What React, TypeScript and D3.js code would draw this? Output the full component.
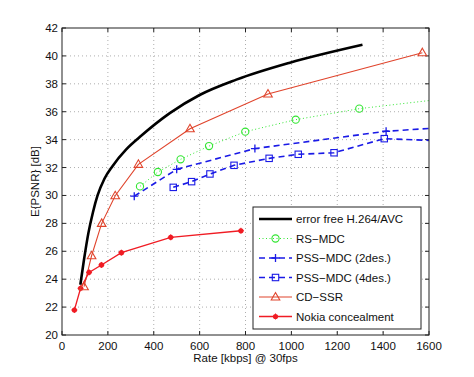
import React from "react";
import * as d3 from "d3";

const xTicks = [0, 200, 400, 600, 800, 1000, 1200, 1400, 1600];
const yTicks = [20, 22, 24, 26, 28, 30, 32, 34, 36, 38, 40, 42];

const errFreeRate = [80, 95, 115, 135, 155, 185, 220, 280, 340, 470, 600, 760, 990, 1310];
const errFreePsnr = [23.6, 25.3, 27.3, 28.8, 30.0, 31.2, 32.1, 33.3, 34.2, 35.9, 37.2, 38.3, 39.5, 40.8];

const rsRate = [340, 418, 517, 641, 799, 1019, 1296, 1600];
const rsPsnr = [30.65, 31.68, 32.59, 33.54, 34.57, 35.43, 36.22, 36.8];

const pss2Rate = [315, 500, 841, 1413, 1600];
const pss2Psnr = [29.95, 31.87, 33.36, 34.6, 34.8];

const pss4Rate = [485, 565, 645, 750, 903, 1030, 1186, 1405, 1600];
const pss4Psnr = [30.58, 30.99, 31.54, 32.16, 32.66, 32.95, 33.06, 34.07, 33.95];

const cdRate = [96, 129, 173, 232, 333, 558, 898, 1571];
const cdPsnr = [23.46, 25.68, 28.0, 29.98, 32.23, 34.78, 37.27, 40.23];

const nokiaRate = [54, 81, 118, 172, 259, 474, 780];
const nokiaPsnr = [21.79, 23.35, 24.49, 25.02, 25.9, 27.0, 27.47];

const legendLabels = [
  "error free H.264/AVC",
  "RS\u2212MDC",
  "PSS\u2212MDC (2des.)",
  "PSS\u2212MDC (4des.)",
  "CD\u2212SSR",
  "Nokia concealment",
];

const W = 474, H = 377;
const L = 62, R = 429, T = 28, B = 335;
const FONT = "'Liberation Sans', Arial, sans-serif";

const BLUE = "#1a1ae6";
const GREEN = "#33e633";
const ORANGE = "#e0442c";
const RED = "#f01c24";

type Pt = [number, number];
const zip = (a: number[], b: number[]): Pt[] => a.map((v, i) => [v, b[i]]);

export default function App() {
  const x = d3.scaleLinear().domain([0, 1600]).range([L, R]);
  const y = d3.scaleLinear().domain([20, 42]).range([B, T]);
  const line = (curve = d3.curveLinear) =>
    d3.line<Pt>().x((d) => x(d[0])).y((d) => y(d[1])).curve(curve);

  const errFree = zip(errFreeRate, errFreePsnr);
  const rs = zip(rsRate, rsPsnr);
  const pss2 = zip(pss2Rate, pss2Psnr);
  const pss4 = zip(pss4Rate, pss4Psnr);
  const cd = zip(cdRate, cdPsnr);
  const nokia = zip(nokiaRate, nokiaPsnr);

  const inside = (d: Pt) => d[0] < 1600;

  const circle = (cx: number, cy: number, k: string) => (
    <circle key={k} cx={cx} cy={cy} r={3.6} fill="none" stroke={GREEN} strokeWidth={1.1} />
  );
  const plus = (cx: number, cy: number, k: string) => (
    <path key={k} d={`M${cx - 4},${cy}H${cx + 4}M${cx},${cy - 4}V${cy + 4}`} stroke={BLUE} strokeWidth={1.3} />
  );
  const square = (cx: number, cy: number, k: string) => (
    <rect key={k} x={cx - 3.2} y={cy - 3.2} width={6.4} height={6.4} fill="none" stroke={BLUE} strokeWidth={1.1} />
  );
  const tri = (cx: number, cy: number, k: string) => (
    <path key={k} d={`M${cx},${cy - 4.5}L${cx + 4.3},${cy + 3}L${cx - 4.3},${cy + 3}Z`} fill="none" stroke={ORANGE} strokeWidth={1.1} />
  );
  const dot = (cx: number, cy: number, k: string) => (
    <g key={k}>
      <circle cx={cx} cy={cy} r={2.6} fill={RED} />
      <path d={`M${cx - 3},${cy}H${cx + 3}M${cx},${cy - 3}V${cy + 3}`} stroke={RED} strokeWidth={1} />
    </g>
  );

  const legX0 = 253, legY0 = 207, legW = 168, legH = 122;
  const rowY = (i: number) => 219 + i * 19.5;
  const sx1 = 259, sx2 = 292, mx = 275.5;

  const legendStyles = [
    { stroke: "#000", dash: undefined as string | undefined, w: 2.4, m: null as any },
    { stroke: GREEN, dash: "1,2.5", w: 1, m: circle },
    { stroke: BLUE, dash: "6,4", w: 1.6, m: plus },
    { stroke: BLUE, dash: "6,4", w: 1.6, m: square },
    { stroke: ORANGE, dash: undefined, w: 1.1, m: tri },
    { stroke: RED, dash: undefined, w: 1.3, m: dot },
  ];

  return (
    <svg width={W} height={H} style={{ position: "absolute", left: 0, top: 0, background: "#fff" }} fontFamily={FONT}>
      <defs>
        <clipPath id="plot">
          <rect x={L} y={T} width={R - L} height={B - T} />
        </clipPath>
      </defs>
      <rect width={W} height={H} fill="#fff" />
      {xTicks.slice(1, -1).map((t) => (
        <line key={"gx" + t} x1={x(t)} x2={x(t)} y1={T} y2={B} stroke="#999" strokeWidth={0.8} strokeDasharray="1,3" />
      ))}
      {yTicks.slice(1, -1).map((t) => (
        <line key={"gy" + t} x1={L} x2={R} y1={y(t)} y2={y(t)} stroke="#999" strokeWidth={0.8} strokeDasharray="1,3" />
      ))}
      {xTicks.map((t) => (
        <g key={"tx" + t}>
          <line x1={x(t)} x2={x(t)} y1={B} y2={B - 4} stroke="#222" />
          <line x1={x(t)} x2={x(t)} y1={T} y2={T + 4} stroke="#222" />
          <text x={x(t)} y={350} textAnchor="middle" fontSize={11.5} fill="#111">{t}</text>
        </g>
      ))}
      {yTicks.map((t) => (
        <g key={"ty" + t}>
          <line x1={L} x2={L + 4} y1={y(t)} y2={y(t)} stroke="#222" />
          <line x1={R} x2={R - 4} y1={y(t)} y2={y(t)} stroke="#222" />
          <text x={58} y={y(t) + 4} textAnchor="end" fontSize={11.5} fill="#111">{t}</text>
        </g>
      ))}
      <g clipPath="url(#plot)">
        <path d={line(d3.curveMonotoneX)(errFree) || ""} fill="none" stroke="#000" strokeWidth={2.6} />
        <path d={line()(rs) || ""} fill="none" stroke={GREEN} strokeWidth={1} strokeDasharray="1,2.5" />
        <path d={line()(pss2) || ""} fill="none" stroke={BLUE} strokeWidth={1.6} strokeDasharray="6,4" />
        <path d={line()(pss4) || ""} fill="none" stroke={BLUE} strokeWidth={1.6} strokeDasharray="6,4" />
        <path d={line()(cd) || ""} fill="none" stroke={ORANGE} strokeWidth={1.1} />
        <path d={line()(nokia) || ""} fill="none" stroke={RED} strokeWidth={1.3} />
        {rs.filter(inside).map((d, i) => circle(x(d[0]), y(d[1]), "rs" + i))}
        {pss2.filter(inside).map((d, i) => plus(x(d[0]), y(d[1]), "p2" + i))}
        {pss4.filter(inside).map((d, i) => square(x(d[0]), y(d[1]), "p4" + i))}
        {nokia.map((d, i) => dot(x(d[0]), y(d[1]), "nk" + i))}
      </g>
      {cd.map((d, i) => tri(x(d[0]), y(d[1]), "cd" + i))}
      <rect x={L} y={T} width={R - L} height={B - T} fill="none" stroke="#222" strokeWidth={1} />
      <rect x={legX0} y={legY0} width={legW} height={legH} fill="#fff" stroke="#222" strokeWidth={1} />
      {legendLabels.map((lab, i) => {
        const s = legendStyles[i];
        const yy = rowY(i);
        return (
          <g key={"lg" + i}>
            <line x1={sx1} x2={sx2} y1={yy} y2={yy} stroke={s.stroke} strokeWidth={s.w} strokeDasharray={s.dash} />
            {s.m ? s.m(mx, yy, "lm" + i) : null}
            <text x={296} y={yy + 4} fontSize={11.5} fill="#111">{lab}</text>
          </g>
        );
      })}
      <text x={(L + R) / 2} y={362} textAnchor="middle" fontSize={11.5} fill="#111">Rate [kbps] @ 30fps</text>
      <text transform={`translate(39,${(T + B) / 2}) rotate(-90)`} textAnchor="middle" fontSize={11.5} fill="#111">E{"{PSNR}"} [dB]</text>
    </svg>
  );
}
